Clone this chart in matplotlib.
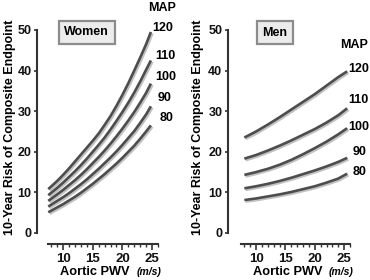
import numpy as np
import matplotlib
matplotlib.use("Agg")
import matplotlib.pyplot as plt
import matplotlib.patheffects as pe

plt.rcParams['font.family'] = ['Liberation Sans', 'DejaVu Sans']
plt.rcParams['font.weight'] = 'bold'

# MAP levels
map_levels = [120, 110, 100, 90, 80]

# women: PWV (m/s) vs 10-year risk (%)
women_x = [7.5, 9, 10, 11, 12, 13, 14, 15, 16, 17, 18, 19, 20, 21, 22, 23, 24, 24.8]
women_y = {
    120: [10.8, 12.8, 14.3, 15.9, 17.6, 19.3, 21.0, 22.7, 24.5, 26.6, 28.8, 31.3, 34.0, 36.9, 40.0, 43.2, 46.5, 49.5],
    110: [9.3, 11.1, 12.4, 13.8, 15.2, 16.7, 18.3, 20.0, 21.7, 23.5, 25.5, 27.6, 29.8, 32.1, 34.6, 37.3, 40.2, 42.5],
    100: [7.9, 9.5, 10.6, 11.8, 13.0, 14.3, 15.7, 17.2, 18.7, 20.3, 22.0, 23.8, 25.7, 27.7, 29.8, 32.1, 34.5, 36.8],
    90:  [6.5, 7.9, 8.8, 9.8, 10.9, 12.0, 13.2, 14.5, 15.8, 17.2, 18.6, 20.1, 21.7, 23.4, 25.1, 27.1, 29.2, 31.2],
    80:  [5.1, 6.3, 7.1, 8.0, 8.9, 9.9, 11.0, 12.1, 13.3, 14.5, 15.8, 17.1, 18.5, 20.0, 21.5, 23.2, 25.0, 26.5],
}

# men
men_x = [8, 10, 12, 14, 16, 18, 20, 22, 24, 25.5]
men_y = {
    120: [23.5, 25.0, 26.7, 28.5, 30.4, 32.3, 34.2, 36.3, 38.4, 39.8],
    110: [18.3, 19.2, 20.3, 21.5, 22.8, 24.2, 25.6, 27.2, 29.0, 30.7],
    100: [14.3, 15.0, 15.8, 16.8, 18.0, 19.4, 20.9, 22.5, 24.3, 25.8],
    90:  [11.0, 11.5, 12.1, 12.8, 13.6, 14.5, 15.4, 16.4, 17.5, 18.5],
    80:  [8.1, 8.5, 9.0, 9.5, 10.1, 10.8, 11.5, 12.4, 13.4, 14.6],
}

# label positions (data coords) for the MAP numbers
women_lab = {120: (25.0, 50.6), 110: (25.5, 43.5), 100: (25.5, 38.3), 90: (26.0, 33.2), 80: (26.3, 28.3)}
men_lab = {120: (25.7, 40.5), 110: (25.7, 32.7), 100: (25.7, 26.0), 90: (26.4, 19.9), 80: (26.4, 15.0)}

fig = plt.figure(figsize=(3.7, 2.8), dpi=100)
fig.patch.set_facecolor('white')

axL = fig.add_axes([0.1, 0.168, 0.335, 0.725])
axR = fig.add_axes([0.616, 0.168, 0.338, 0.725])

shadow = [pe.SimpleLineShadow(offset=(0.8, -0.8), shadow_color='#9a9a9a', alpha=0.6, linewidth=2.6), pe.Normal()]


def style(ax, xlo, title, tpos, xdat, ydat, labs, mappos):
    for m in map_levels:
        ax.plot(xdat, ydat[m], color='#4d4d4d', lw=1.9, solid_capstyle='butt', path_effects=shadow)
        lx, ly = labs[m]
        ax.text(lx, ly, str(m), fontsize=9, fontweight='bold', ha='left', va='center', clip_on=False)
    ax.text(mappos[0], mappos[1], 'MAP', fontsize=9, fontweight='bold', ha='center', va='center', clip_on=False)
    ax.set_xlim(xlo, 26.5)
    ax.set_ylim(0, 50)
    for s in ['top', 'right']:
        ax.spines[s].set_visible(False)
    ax.spines['left'].set_color('#333333')
    ax.spines['left'].set_linewidth(1.5)
    ax.spines['bottom'].set_color('#333333')
    ax.spines['bottom'].set_linewidth(1.5)
    ax.spines['bottom'].set_position(('outward', 8))
    ax.spines['bottom'].set_bounds(7.5, 26)
    ax.set_xticks([10, 15, 20, 25])
    ax.set_xticks(np.arange(8, 27), minor=True)
    ax.set_yticks([0, 10, 20, 30, 40, 50])
    ax.tick_params(axis='x', which='major', length=4, width=1.2, colors='#333333', labelcolor='#111111', labelsize=9.5, pad=2.5)
    ax.tick_params(axis='x', which='minor', length=2, width=1.0, colors='#333333')
    ax.tick_params(axis='y', length=2.5, width=1.2, colors='#333333', labelcolor='#111111', labelsize=9, pad=1.5)
    for t in ax.get_xticklabels() + ax.get_yticklabels():
        t.set_fontweight('bold')
    ax.text(tpos[0], tpos[1], title, fontsize=9, fontweight='bold', ha='center', va='center',
            bbox=dict(boxstyle='square,pad=0.45', facecolor='#ececec', edgecolor='#8c8c8c', linewidth=1.6))
    ax.set_facecolor('none')


style(axL, 5.6, 'Women', (14.0, 49.4), women_x, women_y, women_lab, (26.7, 55.5))
style(axR, 5.2, 'Men', (13.2, 49.3), men_x, men_y, men_lab, (26.7, 46.2))

ylab = '10-Year Risk of Composite Endpoint'
fig.text(10 / 370, 1 - 127 / 280, ylab, rotation=90, ha='center', va='center', fontsize=9, fontweight='bold')
fig.text(198 / 370, 1 - 127 / 280, ylab, rotation=90, ha='center', va='center', fontsize=9, fontweight='bold')

for x0, x1 in [(60, 137), (253, 329)]:
    fig.text(x0 / 370, 1 - 272 / 280, 'Aortic PWV', ha='left', va='center', fontsize=9.2, fontweight='bold')
    fig.text(x1 / 370, 1 - 272 / 280, '(m/s)', ha='left', va='center', fontsize=7.5, fontweight='bold', style='italic')

fig.savefig('out.png', dpi=100, facecolor='white')
